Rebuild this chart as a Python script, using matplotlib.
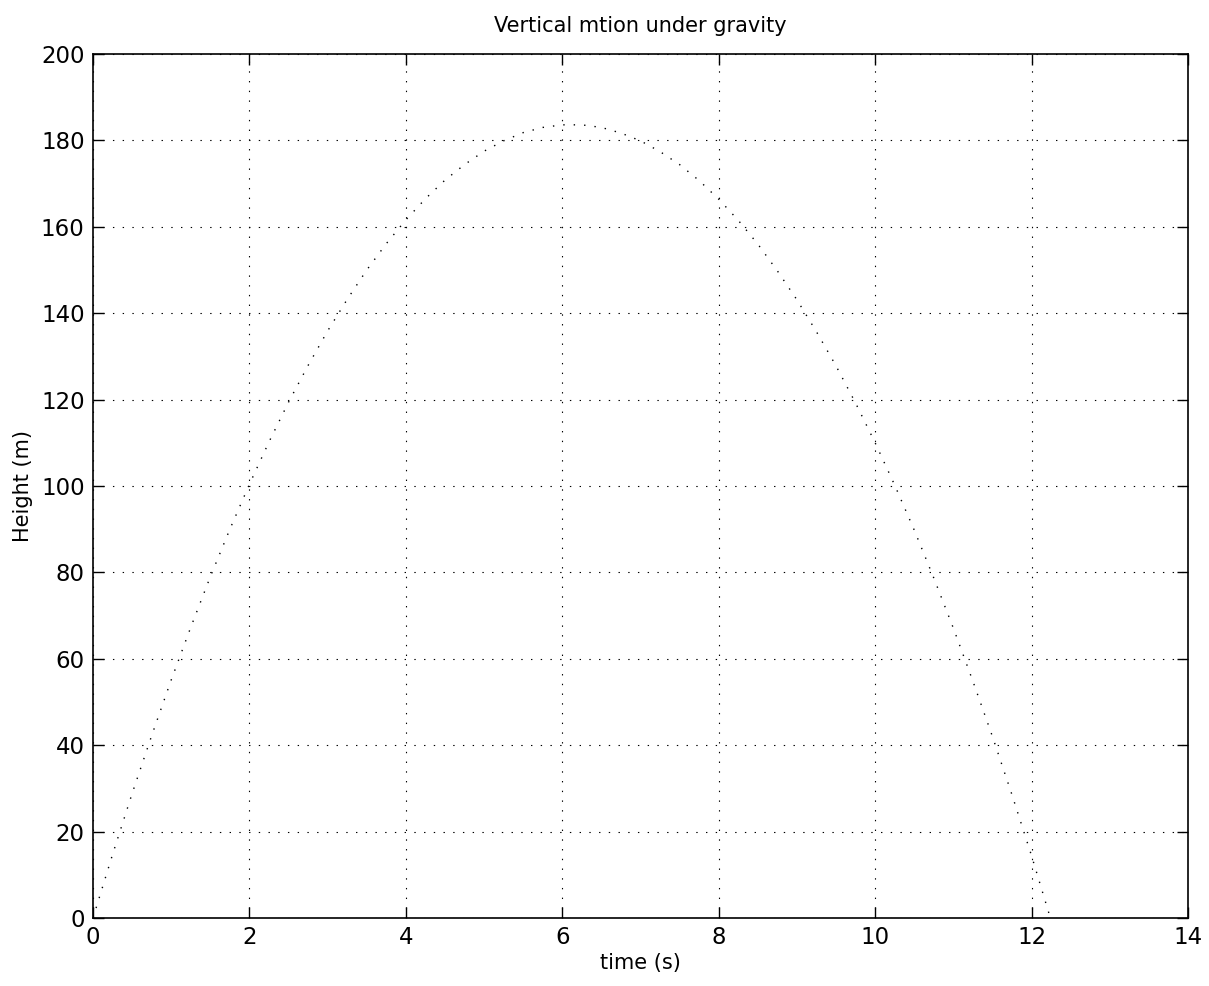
import matplotlib
matplotlib.use("Agg")
import matplotlib.pyplot as plt

# values (time in s, height in m)
t = [0, 0.25, 0.5, 0.75, 1, 1.25, 1.5, 1.75, 2, 2.25, 2.5, 2.75, 3, 3.25,
     3.5, 3.75, 4, 4.25, 4.5, 4.75, 5, 5.25, 5.5, 5.75, 6, 6.25, 6.5, 6.75,
     7, 7.25, 7.5, 7.75, 8, 8.25, 8.5, 8.75, 9, 9.25, 9.5, 9.75, 10, 10.25,
     10.5, 10.75, 11, 11.25, 11.5, 11.75, 12, 12.24]
h = [0, 14.7, 28.8, 42.2, 55.1, 67.3, 79.0, 90.0, 100.4, 110.2, 119.4, 127.9,
     135.9, 143.2, 150.0, 156.1, 161.6, 166.5, 170.8, 174.4, 177.5, 179.9,
     181.8, 183.0, 183.6, 183.6, 183.0, 181.7, 179.9, 177.4, 174.4, 170.7,
     166.4, 161.5, 156.0, 149.8, 143.1, 135.7, 127.8, 119.2, 110.0, 100.2,
     89.8, 78.7, 67.1, 54.8, 42.0, 28.5, 14.4, 0]

xticks = [0, 2, 4, 6, 8, 10, 12, 14]
yticks = [0, 20, 40, 60, 80, 100, 120, 140, 160, 180, 200]

plt.rcParams['lines.scale_dashes'] = False

fig = plt.figure(figsize=(12.09, 9.86), dpi=100)
ax = fig.add_axes([93/1209, 1 - 918/986, (1188-93)/1209, (918-54)/986])

line, = ax.plot(t, h, color='black', linewidth=1.0)
line.set_dashes((1, 6.5))

ax.set_xlim(0, 14)
ax.set_ylim(0, 200)
ax.set_xticks(xticks)
ax.set_yticks(yticks)
ax.grid(True, color='black', linewidth=0.8, dashes=(1, 6))

ax.tick_params(direction='in', length=8, width=1, top=True, right=True,
               labelsize=16.5, pad=6)
for s in ax.spines.values():
    s.set_linewidth(1.2)

ax.set_title('Vertical mtion under gravity', fontsize=15, pad=16)
ax.set_xlabel('time (s)', fontsize=15, labelpad=3)
ax.set_ylabel('Height (m)', fontsize=15, labelpad=6)

fig.savefig('out.png', dpi=100)
